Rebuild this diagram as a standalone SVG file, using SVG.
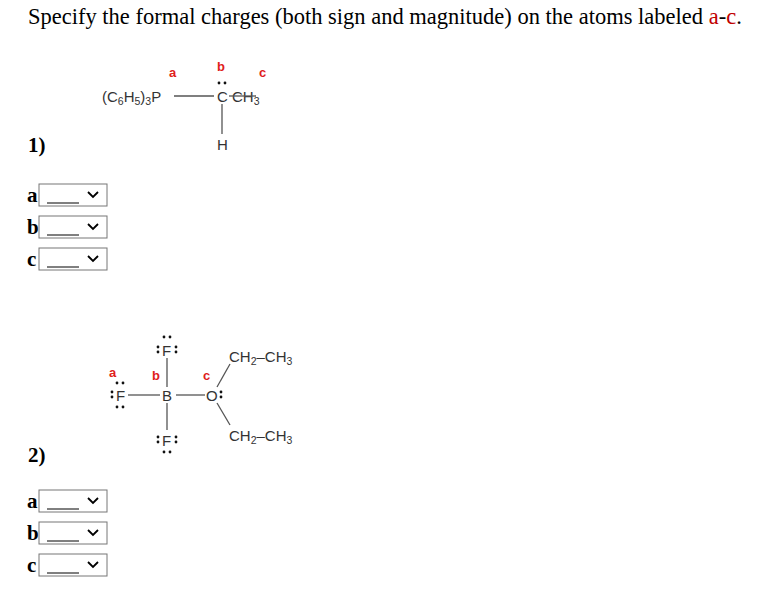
<svg xmlns="http://www.w3.org/2000/svg" width="764" height="599" viewBox="0 0 764 599">
<style>
.t{font-family:"Liberation Serif",serif;font-size:22.5px;fill:#000}
.q{font-family:"Liberation Serif",serif;font-size:21px;font-weight:bold;fill:#000}
.m{font-family:"Liberation Sans",Arial,sans-serif;font-size:15px;fill:#333}
.s{font-size:10.5px}
.l{font-family:"Liberation Sans",Arial,sans-serif;font-size:13px;font-weight:bold;fill:#e0201b}
.b{stroke:#555;stroke-width:1.3;fill:none}
.box{fill:#fff;stroke:#767676;stroke-width:1}
.u{stroke:#000;stroke-width:1}
.chev{fill:none;stroke:#000;stroke-width:1.8}
.d{fill:#111}
</style>
<rect width="764" height="599" fill="#fff"/>
<text class="t" x="28" y="24">Specify the formal charges (both sign and magnitude) on the atoms labeled <tspan fill="#c00000">a</tspan>-<tspan fill="#c00000">c</tspan>.</text>

<g id="mol1">
<text class="m" x="102" y="102">(C<tspan class="s" dy="3">6</tspan><tspan dy="-3">H</tspan><tspan class="s" dy="3">5</tspan><tspan dy="-3">)</tspan><tspan class="s" dy="3">3</tspan><tspan dy="-3">P</tspan></text>
<text class="m" x="217" y="102">C</text>
<text class="m" x="232" y="102">CH<tspan class="s" dy="3">3</tspan></text>
<text class="m" x="217" y="150">H</text>
<circle class="d" cx="219" cy="83" r="1.4"/><circle class="d" cx="225" cy="83" r="1.4"/>
<line class="b" x1="174" y1="96" x2="214" y2="96"/>
<line class="b" x1="229" y1="96" x2="256" y2="96"/>
<line class="b" x1="222" y1="104" x2="222" y2="134"/>
<text class="l" x="169" y="77">a</text>
<text class="l" x="217" y="71">b</text>
<text class="l" x="259" y="77">c</text>
</g>

<text class="q" x="28" y="152">1)</text>

<g id="mol2">
<line class="b" x1="128" y1="395" x2="160" y2="395"/>
<line class="b" x1="176" y1="395" x2="205" y2="395"/>
<line class="b" x1="167" y1="358" x2="167" y2="387"/>
<line class="b" x1="167" y1="403" x2="167" y2="430"/>
<line class="b" x1="217" y1="387" x2="230" y2="364"/>
<line class="b" x1="217" y1="403" x2="230" y2="425"/>
<text class="m" x="162" y="356">F</text>
<text class="m" x="116" y="401">F</text>
<text class="m" x="162" y="401">B</text>
<text class="m" x="206" y="401">O</text>
<text class="m" x="162" y="446">F</text>
<text class="m" x="229" y="362">CH<tspan class="s" dy="3">2</tspan><tspan dy="-3">–CH</tspan><tspan class="s" dy="3">3</tspan></text>
<text class="m" x="229" y="441">CH<tspan class="s" dy="3">2</tspan><tspan dy="-3">–CH</tspan><tspan class="s" dy="3">3</tspan></text>
<g class="d">
<circle cx="164" cy="337" r="1.4"/><circle cx="170" cy="337" r="1.4"/>
<circle cx="158" cy="347" r="1.4"/><circle cx="158" cy="352" r="1.4"/>
<circle cx="176" cy="347" r="1.4"/><circle cx="176" cy="352" r="1.4"/>
<circle cx="117" cy="383" r="1.4"/><circle cx="123" cy="383" r="1.4"/>
<circle cx="112" cy="392" r="1.4"/><circle cx="112" cy="397" r="1.4"/>
<circle cx="117" cy="407" r="1.4"/><circle cx="123" cy="407" r="1.4"/>
<circle cx="221" cy="392" r="1.4"/><circle cx="221" cy="397" r="1.4"/>
<circle cx="158" cy="437" r="1.4"/><circle cx="158" cy="442" r="1.4"/>
<circle cx="176" cy="437" r="1.4"/><circle cx="176" cy="442" r="1.4"/>
<circle cx="164" cy="452" r="1.4"/><circle cx="170" cy="452" r="1.4"/>
</g>
<text class="l" x="109" y="377">a</text>
<text class="l" x="152" y="380">b</text>
<text class="l" x="203" y="380">c</text>
</g>

<text class="q" x="28" y="462">2)</text>

<g id="selects">
<g id="s1a"><text class="q" x="27" y="202">a</text><rect class="box" x="39" y="184" width="68" height="22"/><line class="u" x1="47" y1="203" x2="79" y2="203"/><polyline class="chev" points="88,192 93,197 98,192"/></g>
<g id="s1b"><text class="q" x="27" y="234">b</text><rect class="box" x="39" y="216" width="68" height="22"/><line class="u" x1="47" y1="235" x2="79" y2="235"/><polyline class="chev" points="88,224 93,229 98,224"/></g>
<g id="s1c"><text class="q" x="27" y="266">c</text><rect class="box" x="39" y="248" width="68" height="22"/><line class="u" x1="47" y1="267" x2="79" y2="267"/><polyline class="chev" points="88,256 93,261 98,256"/></g>
<g id="s2a"><text class="q" x="27" y="508">a</text><rect class="box" x="39" y="490" width="68" height="22"/><line class="u" x1="47" y1="509" x2="79" y2="509"/><polyline class="chev" points="88,498 93,503 98,498"/></g>
<g id="s2b"><text class="q" x="27" y="540">b</text><rect class="box" x="39" y="522" width="68" height="22"/><line class="u" x1="47" y1="541" x2="79" y2="541"/><polyline class="chev" points="88,530 93,535 98,530"/></g>
<g id="s2c"><text class="q" x="27" y="572">c</text><rect class="box" x="39" y="554" width="68" height="22"/><line class="u" x1="47" y1="573" x2="79" y2="573"/><polyline class="chev" points="88,562 93,567 98,562"/></g>
</g>
</svg>
